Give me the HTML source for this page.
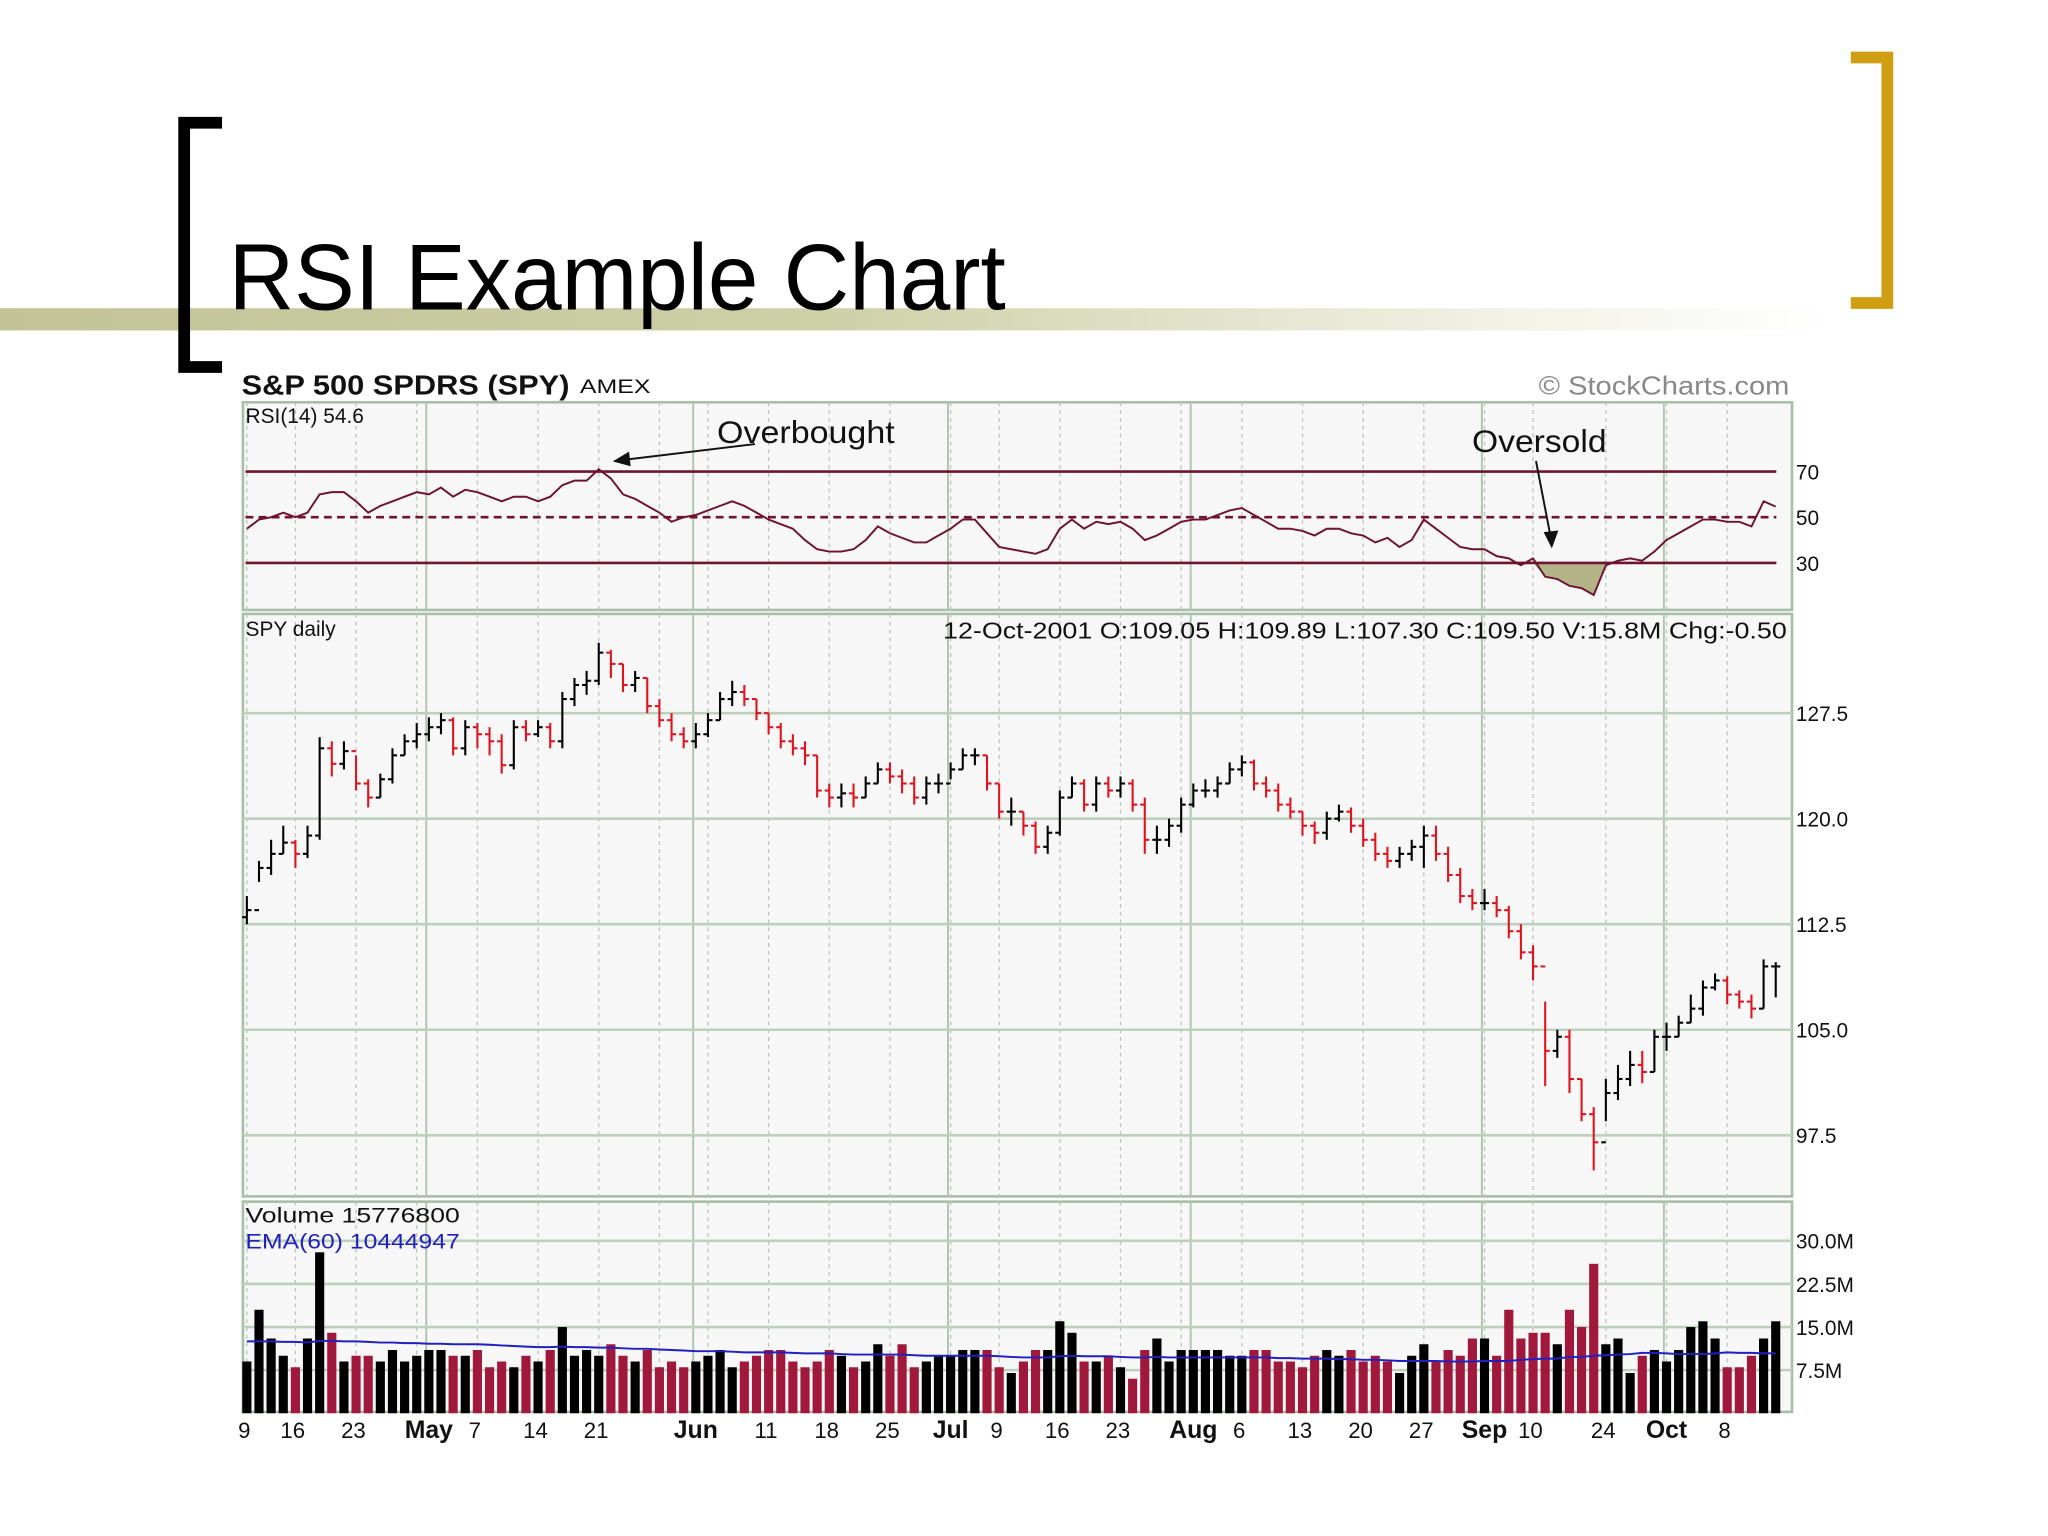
<!DOCTYPE html>
<html><head><meta charset="utf-8"><style>
html,body{margin:0;padding:0;background:#fff;}
svg{display:block;font-family:"Liberation Sans",sans-serif;}
</style></head><body>
<svg id="c" width="2048" height="1536" viewBox="0 0 1568 1176" preserveAspectRatio="none" xmlns="http://www.w3.org/2000/svg">
<defs>
<linearGradient id="og" x1="0" x2="1" y1="0" y2="0"><stop offset="0" stop-color="#c3c397"/><stop offset="0.45" stop-color="#cfcfa8"/><stop offset="0.85" stop-color="#f4f4ea"/><stop offset="1" stop-color="#ffffff"/></linearGradient>
</defs>
<rect width="1568" height="1176" fill="#fff"/>
<rect x="0" y="236" width="1400" height="17" fill="url(#og)"/>
<path d="M170 94 H141 V281 H170" fill="none" stroke="#000" stroke-width="9"/>
<path d="M1417 44 H1445 V232 H1417" fill="none" stroke="#d09e12" stroke-width="9"/>
<text x="175" y="237" font-size="72" textLength="595" lengthAdjust="spacingAndGlyphs" fill="#000">RSI Example Chart</text>
<text x="185" y="302" font-size="21" font-weight="bold" textLength="251" lengthAdjust="spacingAndGlyphs" fill="#111">S&amp;P 500 SPDRS (SPY)</text>
<text x="444" y="301" font-size="15" textLength="54" lengthAdjust="spacingAndGlyphs" fill="#111">AMEX</text>
<text x="1178" y="302" font-size="20" textLength="192" lengthAdjust="spacingAndGlyphs" fill="#888">© StockCharts.com</text>
<g id="g"></g>
</svg>
<script>
const closes=[113.5,116.5,117.5,118.3,
117.5,118.8,125,123.9,124.8,
122.5,121.5,122.8,124.5,125.5,
126,126.5,127,125,126.5,
126,125.5,123.8,126.5,126,
126.5,125.5,128.5,129.5,129.8,
131.8,131,129.5,130,128,
127,126,125.5,126,
127,128.5,129,128.5,127.5,
126.5,125.5,125,124.5,122,
121.5,121.8,121.5,122.5,123.5,
123,122.5,121.5,122.5,122.5,
123.5,124.5,124.5,122.5,
120.5,120.5,119.5,118,119,
121.5,122.5,121,122.5,122,
122.5,121,118.5,118.5,119.5,
121,122,122,122.5,123.5,
124,122.5,122,121,120.5,
119.5,119,120,120.5,119.5,
118.5,117.5,117,117.5,118,
118.8,117.5,116,114.5,114,
114,113.5,112,110.5,
109.5,
103.5,104.5,101.5,99,97,
100.5,101.5,102.5,102,104.5,
104.5,105.5,106.5,108,108.5,
107.5,107,106.5,109.5,109.5];
const highs=[114.5,117,118.5,119.5,
118.5,119.5,125.8,125.5,125.5,
124.5,122.8,123.2,125,126,
126.8,127.2,127.5,127.2,127,
126.8,126.5,126,127,127,
127,126.8,129,130,130.5,
132.5,132,131,130.5,130,
128.5,127.5,126.5,126.8,
127.5,129,129.8,129.5,128.5,
127.5,126.8,126,125.5,124.5,
122.5,122.5,122.5,123,124,
124,123.5,123,123,123.2,
124,125,125,124.5,
122.5,121.5,120.5,119.8,119.5,
122,123,122.8,123,123,
123,122.8,121.5,119.5,120,
121.5,122.5,122.8,123,124,
124.5,124.2,123,122.5,121.5,
120.5,119.8,120.5,121,120.8,
120,119,118,118,118.5,
119.5,119.5,118,116.5,115,
115,114.5,113.8,112.5,
111,
107,105,105,101.5,99.5,
101.5,102.5,103.5,103.5,105,
105.5,106,107.5,108.5,109,
108.8,107.8,107.5,110,109.8];
const lows=[112.5,115.5,116,117.5,
116.5,117.2,118.5,123,123.5,
122,120.8,121.5,122.5,124.5,
125,125.5,126,124.5,124.5,
125,124.5,123.2,123.5,125.5,
125.8,125,125,128,128.8,
129.5,130,129,129,127.5,
126.5,125.5,125,125,
125.8,127,128,128,127,
126,125,124.5,123.8,121.5,
120.8,120.8,120.8,121.5,122.5,
122.5,121.8,121,121,121.8,
122.8,123.5,123.8,122,
120,119.5,118.8,117.5,117.5,
118.8,121.5,120.5,120.5,121.5,
121.5,120.5,117.5,117.5,118,
119,120.8,121.5,121.5,122.5,
123,122,121.5,120.5,120,
118.8,118.2,118.5,119.8,119,
118,117,116.5,116.5,117,
116.5,117,115.5,114,113.5,
113.5,113,111.5,110,
108.5,
101,103,100.5,98.5,95,
98.5,100,101,101.2,102,
103.5,104.5,105.5,106,107.8,
106.8,106.5,105.8,106.5,107.3];
const volumes=[9,18,13,10,8,13,28,14,9,10,
10,9,11,9,10,11,11,10,10,11,
8,9,8,10,9,11,15,10,11,10,
12,10,9,11,8,9,8,9,10,11,
8,9,10,11,11,9,8,9,11,10,
8,9,12,10,12,8,9,10,10,11,
11,11,8,7,9,11,11,16,14,9,
9,10,8,6,11,13,9,11,11,11,
11,10,10,11,11,9,9,8,10,11,
10,11,9,10,9,7,10,12,9,11,
10,13,13,10,18,13,14,14,12,18,
15,26,12,13,7,10,11,9,11,15,
16,13,8,8,10,13,16];
const ema=[12.5,12.5,12.5,12.4,12.4,12.3,12.6,12.6,12.5,12.5,12.4,12.3,12.3,12.2,12.2,12.1,12.1,12.0,12.0,12.0,11.9,11.8,11.7,11.6,11.5,11.5,11.6,11.5,11.5,11.4,11.4,11.3,11.2,11.2,11.1,11.0,10.9,10.8,10.8,10.8,10.7,10.6,10.6,10.6,10.6,10.5,10.4,10.4,10.4,10.3,10.2,10.2,10.2,10.2,10.2,10.1,10.0,10.0,10.0,10.0,10.0,10.0,9.9,9.8,9.7,9.7,9.7,9.9,10.0,9.9,9.9,9.9,9.8,9.7,9.7,9.8,9.7,9.7,9.7,9.7,9.7,9.7,9.7,9.7,9.7,9.6,9.6,9.5,9.5,9.5,9.4,9.4,9.3,9.3,9.2,9.1,9.1,9.1,9.1,9.0,9.0,9.0,9.1,9.1,9.1,9.3,9.4,9.5,9.5,9.8,9.8,10.0,10.1,10.2,10.3,10.5,10.5,10.4,10.3,10.3,10.3,10.4,10.6,10.5,10.5,10.4,10.44];
const rsi=[45,49,50,52,50,52,60,61,61,57,52,55,57,59,61,60,63,59,62,61,59,57,59,59,57,59,64,66,66,71,67,60,58,55,52,48,50,51,53,55,57,55,52,49,47,45,40,36,35,35,36,40,46,43,41,39,39,42,45,49,49,43,37,36,35,34,36,45,49,45,48,47,48,45,40,42,45,48,49,49,51,53,54,51,48,45,45,44,42,45,45,43,42,39,41,37,40,49,45,41,37,36,36,33,32,29,32,24,23,20,19,16,29,31,32,31,35,40,43,46,49,49,48,48,46,57,54.6];
const priceTicks=[97.5,105.0,112.5,120.0,127.5];
const volTicks=[7.5,15.0,22.5,30.0];
const rsiTicks=[30,50,70];
const weekStarts=[0,4,9,14,19,24,29,34,38,43,48,53,58,62,67,72,77,82,87,92,97,102,106,112,117,122];
const xLabelIdx=[0,4,9,15,19,24,29,37,43,48,53,58,62,67,72,78,82,87,92,97,102,106,112,117,122];
const xLabelText=['9','16','23','May','7','14','21','Jun','11','18','25','Jul','9','16','23','Aug','6','13','20','27','Sep','10','24','Oct','8'];

const NS='http://www.w3.org/2000/svg';
const G=document.getElementById('g');
function mk(tag,attrs,parent){const e=document.createElementNS(NS,tag);for(const k in attrs)e.setAttribute(k,attrs[k]);(parent||G).appendChild(e);return e;}
const L=186,R=1372;
const x=i=>189+i*9.29;
const yP=v=>546+(127.5-v)*(80.8/7.5);
const yR=v=>431-(v-30)*1.75;
const yV=v=>1082-v*(33/7.5);
const panels=[[308,467,'rsi-panel'],[470,916,'price-panel'],[920,1081,'volume-panel']];
panels.forEach(p=>{
  const r=mk('rect',{x:L,y:p[0],width:R-L,height:p[1]-p[0],fill:'#f7f7f7',stroke:'#a8bea8','stroke-width':2});
  
  
  weekStarts.forEach(w=>{
    const ln=mk('line',{x1:x(w),x2:x(w),y1:p[0],y2:p[1],stroke:'#b8c8b8','stroke-width':1,'stroke-dasharray':'3,3'});
    
    
  });
  [15,37,58,78,102,117].forEach(m=>{
    const ln=mk('line',{x1:x(m)-2,x2:x(m)-2,y1:p[0],y2:p[1],stroke:'#b0c4b0','stroke-width':1.5});
    
    
  });
});
priceTicks.forEach(v=>{
  const ln=mk('line',{x1:L,x2:R,y1:yP(v),y2:yP(v),stroke:'#bcd0bc','stroke-width':2});
  
  
  const t=mk('text',{x:1375,y:yP(v)+6,'font-size':16,fill:'#111'});t.textContent=v.toFixed(1);
  
  
});
volTicks.forEach(v=>{
  const ln=mk('line',{x1:L,x2:R,y1:yV(v),y2:yV(v),stroke:'#bcd0bc','stroke-width':2});
  
  
  const t=mk('text',{x:1375,y:yV(v)+6,'font-size':16,fill:'#111'});t.textContent=v.toFixed(1)+'M';
  
  
});
let fp='';
for(let i=0;i<rsi.length;i++){fp+=(i?'L':'M')+x(i)+' '+Math.max(yR(rsi[i]),yR(30)-0.001);}
const clip=mk('clipPath',{id:'below30'});
mk('rect',{x:L,y:yR(30),width:R-L,height:40},clip);
const fill=mk('path',{d:fp+'L'+x(rsi.length-1)+' '+yR(30)+'L'+x(0)+' '+yR(30)+'Z',fill:'#b3b386','clip-path':'url(#below30)'});


rsiTicks.forEach(v=>{
  const ln=mk('line',{x1:188,x2:1360,y1:yR(v),y2:yR(v),stroke:'#6e1430','stroke-width':2,'stroke-dasharray':v==50?'6,4':'none'});
  
  
  const t=mk('text',{x:1375,y:yR(v)+6,'font-size':16,fill:'#111'});t.textContent=v;
  
  
});
let rp='';rsi.forEach((v,i)=>{rp+=(i?'L':'M')+x(i).toFixed(1)+' '+yR(v).toFixed(1);});
const rl=mk('path',{d:rp,fill:'none',stroke:'#6e1430','stroke-width':1.5});


closes.forEach((c,i)=>{
  const down=i>0&&c<closes[i-1];
  const v=volumes[i]||0;
  const b=mk('rect',{x:x(i)-3.5,y:yV(v),width:7,height:yV(0)-yV(v),fill:down?'#a0183c':'#000'});
  
  
});
let ep='';ema.slice(0,closes.length).forEach((v,i)=>{ep+=(i?'L':'M')+x(i).toFixed(1)+' '+yV(v).toFixed(1);});
const el=mk('path',{d:ep,fill:'none',stroke:'#2020c0','stroke-width':1.5});


closes.forEach((c,i)=>{
  const o=i>0?closes[i-1]:c-0.5;
  const down=i>0&&c<closes[i-1];
  const col=down?'#e0141e':'#000';
  const gb=mk('g',{stroke:col,'stroke-width':1.6});
  
  
  mk('line',{x1:x(i),x2:x(i),y1:yP(highs[i]),y2:yP(lows[i])},gb);
  mk('line',{x1:x(i)-3.5,x2:x(i),y1:yP(o),y2:yP(o)},gb);
  mk('line',{x1:x(i),x2:x(i)+3.5,y1:yP(c),y2:yP(c)},gb);
});
xLabelIdx.forEach((idx,k)=>{
  const txt=xLabelText[k];const bold=isNaN(+txt);
  const t=mk('text',{x:x(idx)+(bold?0:-2),y:1101,'font-size':bold?19:17,'font-weight':bold?'bold':'normal','text-anchor':'middle',fill:'#111'});
  t.textContent=txt;
  
  
});
function txt(s,a,name){const t=mk('text',a);t.textContent=s;return t;}
txt('RSI(14)  54.6',{x:188,y:324,'font-size':16,fill:'#111'},'rsi-label');
txt('SPY daily',{x:188,y:487,'font-size':16,fill:'#111'},'price-label');
txt('12-Oct-2001  O:109.05  H:109.89  L:107.30  C:109.50  V:15.8M  Chg:-0.50',{x:722,y:489,'font-size':18,textLength:646,lengthAdjust:'spacingAndGlyphs',fill:'#111'},'price-info');
txt('Volume  15776800',{x:188,y:936,'font-size':16,textLength:164,lengthAdjust:'spacingAndGlyphs',fill:'#111'},'volume-label');
txt('EMA(60) 10444947',{x:188,y:956,'font-size':16,textLength:164,lengthAdjust:'spacingAndGlyphs',fill:'#2020c0'},'ema-label');
txt('Overbought',{x:549,y:339,'font-size':24,textLength:136,lengthAdjust:'spacingAndGlyphs',fill:'#111'},'overbought-annotation');
txt('Oversold',{x:1127,y:346,'font-size':24,textLength:103,lengthAdjust:'spacingAndGlyphs',fill:'#111'},'oversold-annotation');
const a1=mk('g',{stroke:'#111','stroke-width':1.5,fill:'#111'});


mk('line',{x1:578,y1:340,x2:478,y2:352},a1);
mk('path',{d:'M471 353 L481 347 L482 356 Z'},a1);
const a2=mk('g',{stroke:'#111','stroke-width':1.5,fill:'#111'});


mk('line',{x1:1176,y1:353,x2:1187,y2:410},a2);
mk('path',{d:'M1188 418 L1183 408 L1192 407 Z'},a2);
</script>
</body></html>
